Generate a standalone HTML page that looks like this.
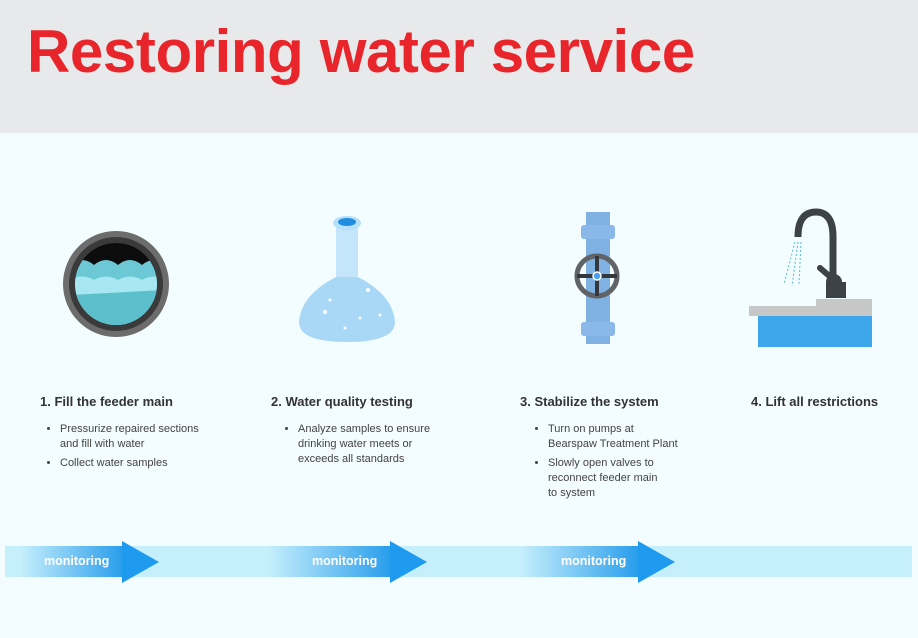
<!DOCTYPE html>
<html><head><style>
body{margin:0;width:918px;height:638px;background:#f3fcfe;font-family:"Liberation Sans",sans-serif;position:relative;overflow:hidden}
.hdr{position:absolute;left:0;top:0;width:918px;height:133px;background:#e8e9eb}
.title{position:absolute;left:27px;top:17px;font-size:60px;font-weight:bold;color:#e8252a;letter-spacing:-0.4px}
.h{position:absolute;top:394px;font-size:13px;font-weight:bold;color:#333}
ul{position:absolute;top:422px;margin:0;padding-left:14px;font-size:11px;color:#444;line-height:15px}
li{margin-bottom:4px;padding-left:0}
.band{position:absolute;left:5px;top:546px;width:907px;height:31px;background:#c6effc}
.ar{position:absolute;top:541px;height:42px}
.body{position:absolute;top:5px;height:31px;left:0;background:linear-gradient(to right,rgba(30,150,235,0),#2a9eec)}
.head{position:absolute;top:0;width:0;height:0;border-top:21px solid transparent;border-bottom:21px solid transparent;border-left:37px solid #1e9bef}
.lab{position:absolute;top:13px;font-size:12.5px;font-weight:bold;color:#fff}
</style></head><body>
<div class="hdr"></div>
<div class="title">Restoring water service</div>

<svg width="918" height="638" style="position:absolute;left:0;top:0">
 <circle cx="116" cy="284" r="53" fill="#6c6c6c"/>
 <circle cx="116" cy="284" r="47" fill="#3a3a3a"/>
 <clipPath id="c1"><circle cx="116" cy="284" r="41"/></clipPath>
 <g clip-path="url(#c1)">
  <rect x="70" y="240" width="95" height="90" fill="#0c0c0c"/>
  <path d="M70 265 q12 -10 24 0 q12 -10 24 0 q12 -10 24 0 q12-10 24 0 V330 H70Z" fill="#6cc8d4"/>
  <path d="M70 280 q12 -7 24 0 q12 -7 24 0 q12 -7 24 0 q12-7 24 0 V330 H70Z" fill="#a8e6f2"/>
  <path d="M70 295 L165 290 V330 H70Z" fill="#5cc0cc"/>
 </g>
 <path d="M336 225 h22 v52 q35 18 37 45 q0 20 -48 20 q-48 0 -48 -20 q2 -27 37 -45z" fill="#a9d8f6"/>
 <path d="M336 225 h22 v52 h-22z" fill="#c4e6fa"/>
 <ellipse cx="347" cy="223" rx="14" ry="7" fill="#b7e0fa"/>
 <ellipse cx="347" cy="222" rx="9" ry="4" fill="#1f8ee0"/>
 <g fill="#fff"><circle cx="330" cy="300" r="1.5"/><circle cx="368" cy="290" r="2"/><circle cx="325" cy="312" r="2"/><circle cx="360" cy="318" r="1.5"/><circle cx="345" cy="328" r="1.5"/><circle cx="380" cy="315" r="1.5"/></g>
 <rect x="586" y="212" width="24" height="132" fill="#7fb1e3"/>
 <rect x="581" y="225" width="34" height="14" rx="3" fill="#8ab8e8"/>
 <rect x="581" y="322" width="34" height="14" rx="3" fill="#8ab8e8"/>
 <circle cx="597" cy="276" r="20" fill="none" stroke="#606468" stroke-width="5"/>
 <path d="M597 256v40M577 276h40" stroke="#34383c" stroke-width="4"/>
 <circle cx="597" cy="276" r="4" fill="#4aa0f0" stroke="#fff" stroke-width="1.5"/>
 <path d="M798 237 q0 -25 18 -25 q17 0 17 25 v60" fill="none" stroke="#3c4246" stroke-width="7"/>
 <rect x="826" y="282" width="20" height="16" fill="#3c4246"/>
 <circle cx="834" cy="282" r="8" fill="#3c4246"/>
 <path d="M820 268l14 12" stroke="#3c4246" stroke-width="6" stroke-linecap="round"/>
 <g stroke="#55b9e0" stroke-width="1" stroke-dasharray="2 2"><path d="M795 242l-11 42M798 242l-6 44M801 242l-2 42"/></g>
 <rect x="749" y="306" width="123" height="10" fill="#c6c8c8"/>
 <rect x="816" y="299" width="56" height="8" fill="#c6c8c8"/>
 <rect x="758" y="316" width="114" height="31" fill="#3ea6ea"/>
</svg>

<div class="h" style="left:40px">1. Fill the feeder main</div>
<ul style="left:46px"><li>Pressurize repaired sections<br>and fill with water</li><li>Collect water samples</li></ul>
<div class="h" style="left:271px">2. Water quality testing</div>
<ul style="left:284px"><li>Analyze samples to ensure<br>drinking water meets or<br>exceeds all standards</li></ul>
<div class="h" style="left:520px">3. Stabilize the system</div>
<ul style="left:534px"><li>Turn on pumps at<br>Bearspaw Treatment Plant</li><li>Slowly open valves to<br>reconnect feeder main<br>to system</li></ul>
<div class="h" style="left:751px">4. Lift all restrictions</div>

<div class="band"></div>
<div class="ar" style="left:20px;width:140px"><div class="body" style="width:102px"></div><div class="head" style="left:102px"></div><div class="lab" style="left:24px">monitoring</div></div>
<div class="ar" style="left:268px;width:160px"><div class="body" style="width:122px"></div><div class="head" style="left:122px"></div><div class="lab" style="left:44px">monitoring</div></div>
<div class="ar" style="left:520px;width:160px"><div class="body" style="width:118px"></div><div class="head" style="left:118px"></div><div class="lab" style="left:41px">monitoring</div></div>
</body></html>
